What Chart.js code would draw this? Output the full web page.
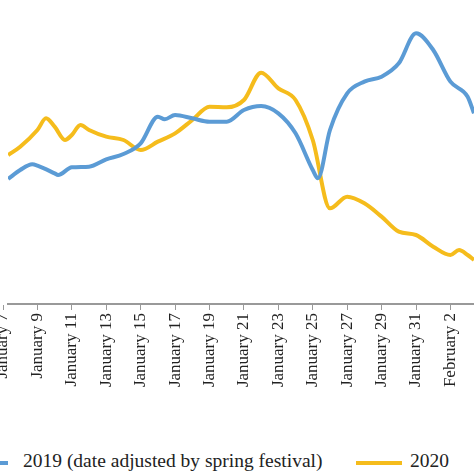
<!DOCTYPE html>
<html><head><meta charset="utf-8">
<script src="https://cdn.jsdelivr.net/npm/chart.js@4"></script>
<style>
body{margin:0;width:474px;height:474px;overflow:hidden;background:#fff;position:relative;font-family:"Liberation Serif",serif}
#c{position:absolute;left:0;top:0}
#leg{position:absolute;top:450px;left:0;width:474px;height:26px;font-size:19.5px;color:#222}
.ln{position:absolute;top:11px;height:4px}
.tx{position:absolute;top:0;white-space:nowrap}
</style></head><body>
<canvas id="c" width="474" height="430"></canvas>
<div id="leg">
<div class="ln" style="left:-30px;width:38px;background:#5B9BD5"></div>
<div class="tx" style="left:23px">2019 (date adjusted by spring festival)</div>
<div class="ln" style="left:356px;width:46px;background:#F5BC1C"></div>
<div class="tx" style="left:410px">2020</div>
</div>
<script>
const monthDayLabels = {7:"January 7",9:"January 9",11:"January 11",13:"January 13",15:"January 15",17:"January 17",19:"January 19",21:"January 21",23:"January 23",25:"January 25",27:"January 27",29:"January 29",31:"January 31",33:"February 2"};
const days2019 = [7.3,8,8.7,9,10,10.2,11,12,13,14,15,16,16.4,17,18,19,20,21,22,23,24,25,25.3,26,27,28,29,30,31,32,33,34,34.37];
const vals2019 = [537,510,493,497,520,525,502,500,478,462,430,350,358,345,355,365,365,330,318,340,400,510,535,390,280,245,230,190,100,150,245,290,340];
const days2020 = [7.3,8,9,9.5,10,10.6,11,11.5,12,13,14,15,16,17,18,19,20,21,22,23,24,25,26,27,28,29,30,31,32,33,33.5,34,34.37];
const vals2020 = [465,440,390,355,380,420,405,375,390,410,420,450,425,400,360,320,322,300,218,265,300,420,625,590,610,650,695,705,740,765,750,765,780];
const conv=(d,v)=>d.map((x,i)=>({x:x,y:304-v[i]/3}));
new Chart(document.getElementById('c'),{
type:'line',
data:{datasets:[
{data:conv(days2019,vals2019),borderColor:'#5B9BD5',borderWidth:4,pointRadius:0,cubicInterpolationMode:'monotone'},
{data:conv(days2020,vals2020),borderColor:'#F5BC1C',borderWidth:4,pointRadius:0,cubicInterpolationMode:'monotone'}]},
options:{responsive:false,animation:false,
layout:{padding:0},
plugins:{legend:{display:false},tooltip:{enabled:false}},
scales:{
x:{type:'linear',min:7.29,max:34.37,
afterBuildTicks:s=>{s.ticks=[];for(let d=7;d<=33;d+=2)s.ticks.push({value:d});},
afterFit:s=>{s.height=126;},
grid:{display:true,drawOnChartArea:false,tickLength:6,color:'#999'},
border:{color:'#999',width:2},
ticks:{autoSkip:false,maxRotation:90,minRotation:90,color:'#222',font:{family:'Liberation Serif',size:17},callback:v=>monthDayLabels[v]||''}},
y:{display:false,min:0,max:304}}}
});
</script>
</body></html>
